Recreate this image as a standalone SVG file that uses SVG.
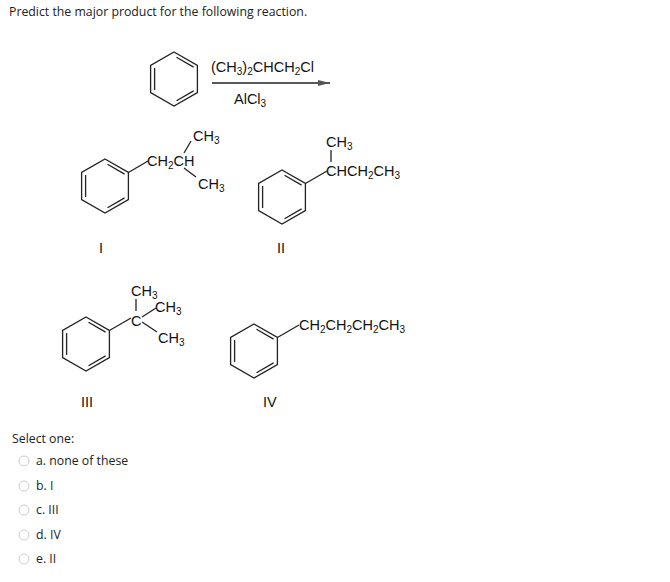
<svg xmlns="http://www.w3.org/2000/svg" width="670" height="582" viewBox="0 0 670 582">
<style>
.b{fill:none;stroke:#222;stroke-width:1.3}
.c{font-family:"Liberation Sans",Arial,sans-serif;font-size:14.5px;fill:#111}
.s{font-size:10px}
.q{font-family:"Open Sans","Noto Sans",sans-serif;font-size:12.3px;fill:#222}
.r{fill:#fff;stroke:#ccc;stroke-width:1}
</style>
<defs>
<g id="ring">
<path class="b" d="M0,-27 L23.4,-13.5 L23.4,13.5 L0,27 L-23.4,13.5 L-23.4,-13.5 Z"/>
<path class="b" d="M-19.4,-11 V11 M2.5,-21.8 L19.6,-11.9 M2.5,21.8 L19.6,11.9"/>
</g>
<marker id="ah" markerWidth="12" markerHeight="6" refX="12" refY="3" orient="auto" markerUnits="userSpaceOnUse"><path d="M0,0 L12,3 L0,6 Z" fill="#555"/></marker>
</defs>
<rect width="670" height="582" fill="#fff"/>
<text class="q" x="9" y="16">Predict the major product for the following reaction.</text>
<g id="reactant"><use href="#ring" x="174" y="79"/></g>
<g id="connectors"><line class="b" x1="212" y1="83" x2="330" y2="83" marker-end="url(#ah)"/></g>
<text class="c" x="211" y="72">(CH<tspan class="s" dy="3">3</tspan><tspan dy="-3">)</tspan><tspan class="s" dy="3">2</tspan><tspan dy="-3">CHCH</tspan><tspan class="s" dy="3">2</tspan><tspan dy="-3">Cl</tspan></text>
<text class="c" x="234" y="104">AlCl<tspan class="s" dy="3">3</tspan></text>
<g id="p1"><use href="#ring" x="105" y="186"/>
<path class="b" d="M128.4,172.5 L148,161 M184,153 L191,141 M184,168 L196,177"/>
<text class="c" x="147" y="166">CH<tspan class="s" dy="3">2</tspan><tspan dy="-3">CH</tspan></text>
<text class="c" x="193" y="141">CH<tspan class="s" dy="3">3</tspan></text>
<text class="c" x="198" y="189">CH<tspan class="s" dy="3">3</tspan></text>
<text class="c" x="99" y="253">I</text></g>
<g id="p2"><use href="#ring" x="282" y="197"/>
<path class="b" d="M305.4,183.5 L327,171 M331,150 V162"/>
<text class="c" x="326" y="147">CH<tspan class="s" dy="3">3</tspan></text>
<text class="c" x="326" y="176">CHCH<tspan class="s" dy="3">2</tspan><tspan dy="-3">CH</tspan><tspan class="s" dy="3">3</tspan></text>
<text class="c" x="277" y="253">II</text></g>
<g id="p3"><use href="#ring" x="86" y="344"/>
<path class="b" d="M109.4,330.5 L131,318 M136,299 V311 M142,317 L156,308 M142,322 L157,332"/>
<text class="c" x="131" y="296">CH<tspan class="s" dy="3">3</tspan></text>
<text class="c" x="155" y="312">CH<tspan class="s" dy="3">3</tspan></text>
<text class="c" x="131" y="326">C</text>
<text class="c" x="158" y="343">CH<tspan class="s" dy="3">3</tspan></text>
<text class="c" x="81" y="407">III</text></g>
<g id="p4"><use href="#ring" x="254" y="351"/>
<path class="b" d="M277.4,337.5 L299,325"/>
<text class="c" x="299" y="330">CH<tspan class="s" dy="3">2</tspan><tspan dy="-3">CH</tspan><tspan class="s" dy="3">2</tspan><tspan dy="-3">CH</tspan><tspan class="s" dy="3">2</tspan><tspan dy="-3">CH</tspan><tspan class="s" dy="3">3</tspan></text>
<text class="c" x="263" y="407">IV</text></g>
<g id="options">
<text class="q" x="12" y="443">Select one:</text>
<circle class="r" cx="24" cy="461" r="5"/><text class="q" x="36" y="465">a. none of these</text>
<circle class="r" cx="24" cy="486" r="5"/><text class="q" x="36" y="490">b. I</text>
<circle class="r" cx="24" cy="510" r="5"/><text class="q" x="36" y="514">c. III</text>
<circle class="r" cx="24" cy="535" r="5"/><text class="q" x="36" y="539">d. IV</text>
<circle class="r" cx="24" cy="559" r="5"/><text class="q" x="36" y="563">e. II</text>
</g>
</svg>
